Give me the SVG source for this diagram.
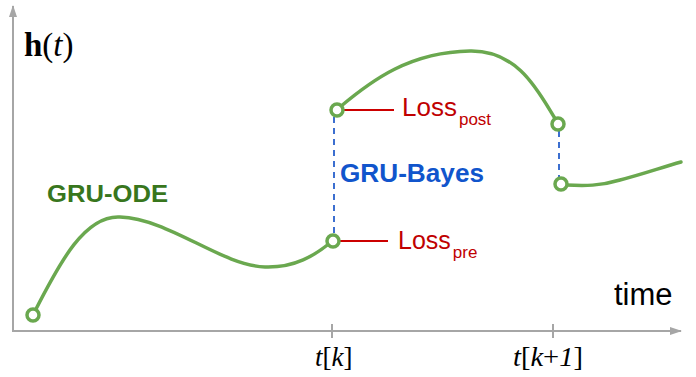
<svg xmlns="http://www.w3.org/2000/svg" width="696" height="377" viewBox="0 0 696 377">
<style>
.axis{stroke:#a6a6a6;stroke-width:2;fill:none}
.curve{stroke:#6aa84f;stroke-width:3.5;fill:none;stroke-linecap:round}
.pt{stroke:#6aa84f;stroke-width:3.5;fill:#fff}
.dash{stroke:#3c6fd0;stroke-width:2;stroke-dasharray:6,5;fill:none}
.red{stroke:#cc0000;stroke-width:2}
.loss{font-family:"Liberation Sans",Arial,sans-serif;fill:#c00000}
.serif{font-family:"Liberation Serif","Times New Roman",serif;fill:#000}
.bold{font-family:"Liberation Sans",Arial,sans-serif;font-weight:bold}
</style>
<defs>
<marker id="arr" markerWidth="12" markerHeight="10" refX="11" refY="5" orient="auto" markerUnits="userSpaceOnUse">
<path d="M0,1 L12,5 L0,9 Z" fill="#a6a6a6"/>
</marker>
</defs>
<g id="axes">
<line class="axis" x1="13" y1="331" x2="13" y2="6" marker-end="url(#arr)"/>
<line class="axis" x1="12" y1="331" x2="681" y2="331" marker-end="url(#arr)"/>
<line class="axis" x1="332" y1="324" x2="332" y2="338" stroke-width="1.5"/>
<line class="axis" x1="553" y1="324" x2="553" y2="338" stroke-width="1.5"/>
</g>
<g id="connectors">
<line class="dash" x1="334" y1="117" x2="334" y2="235"/>
<line class="dash" x1="559" y1="131" x2="559" y2="178"/>
<line class="red" x1="344" y1="110" x2="394" y2="110"/>
<line class="red" x1="339" y1="241" x2="388" y2="241"/>
<path class="curve" d="M35,311 C60,262 85,215 120,217 C170,219 220,265 265,267 C295,268 315,255 330,243"/>
<path class="curve" d="M340,107 C372,80 410,52 470,51 C520,50 540,95 556,120"/>
<path class="curve" d="M566,185 C585,186 600,186 620,180 C640,175 660,168 681,162"/>
</g>
<g id="node-start"><circle class="pt" cx="33" cy="315" r="6"/></g>
<g id="node-pre"><circle class="pt" cx="333" cy="241" r="6"/></g>
<g id="node-post"><circle class="pt" cx="337" cy="110" r="6"/></g>
<g id="node-k1-pre"><circle class="pt" cx="558" cy="124" r="6"/></g>
<g id="node-k1-post"><circle class="pt" cx="561" cy="184" r="6"/></g>
<g id="labels">
<text class="serif" x="24" y="56" font-size="33"><tspan font-weight="bold">h</tspan>(<tspan font-style="italic">t</tspan>)</text>
<text class="bold" x="47" y="202" font-size="24" fill="#38761d" textLength="121" lengthAdjust="spacingAndGlyphs">GRU-ODE</text>
<text class="bold" x="340" y="182" font-size="25" fill="#1155cc" textLength="144" lengthAdjust="spacingAndGlyphs">GRU-Bayes</text>
<text class="loss" x="402" y="116" font-size="26">Loss<tspan font-size="17" dx="2" dy="9">post</tspan></text>
<text class="loss" x="398" y="249" font-size="25">Loss<tspan font-size="17" dx="2" dy="9">pre</tspan></text>
<text x="614" y="305" font-family="Liberation Sans,Arial,sans-serif" font-size="31" fill="#000">time</text>
<text class="serif" x="315" y="366" font-size="27"><tspan font-style="italic">t</tspan>[<tspan font-style="italic">k</tspan>]</text>
<text class="serif" x="513" y="366" font-size="27" textLength="70" lengthAdjust="spacingAndGlyphs"><tspan font-style="italic">t</tspan>[<tspan font-style="italic">k</tspan>+<tspan font-style="italic">1</tspan>]</text>
</g>
</svg>
